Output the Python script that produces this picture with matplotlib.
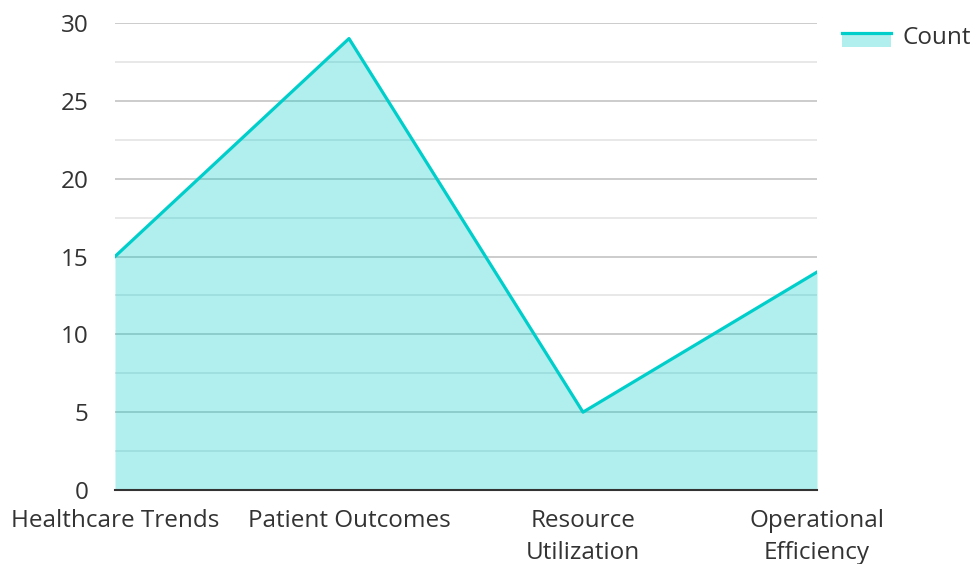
import matplotlib.pyplot as plt
from matplotlib.patches import Rectangle
from matplotlib.lines import Line2D
from matplotlib.legend_handler import HandlerBase
import numpy as np

categories = ["Healthcare Trends", "Patient Outcomes", "Resource\nUtilization", "Operational\nEfficiency"]
counts = [15, 29, 5, 14]

line_color = "#00cecb"
fill_alpha = 0.31
text_color = "#333333"


class AreaHandler(HandlerBase):
    # fill box with the line along its top edge, nudged a bit lower
    def create_artists(self, legend, orig_handle, xdescent, ydescent, width, height, fontsize, trans):
        y0 = -ydescent - 3.5
        box = Rectangle((-xdescent, y0), width, height, facecolor=line_color,
                        alpha=fill_alpha, edgecolor="none", transform=trans)
        top = Line2D([-xdescent, -xdescent + width], [y0 + height] * 2,
                     color=line_color, linewidth=2.3, transform=trans)
        return [box, top]


plt.rcParams['font.family'] = ['Open Sans', 'DejaVu Sans']

fig = plt.figure(figsize=(9.74, 5.64), dpi=100)
ax = fig.add_axes([115/974, 1 - 490/564, (817 - 115)/974, (490 - 23)/564])

x = np.arange(len(categories))
ax.fill_between(x, counts, 0, color=line_color, alpha=fill_alpha, linewidth=0, zorder=2)
line, = ax.plot(x, counts, color=line_color, linewidth=2.3, zorder=3)

ax.set_xlim(0, len(categories) - 1)
ax.set_ylim(0, 30)
ax.set_yticks(np.arange(0, 31, 5))
ax.set_yticks(np.arange(2.5, 30, 5), minor=True)
ax.set_xticks(x)
ax.set_xticklabels(categories, linespacing=1.45)

ax.grid(axis="y", which="major", color="#c8c8c8", linewidth=1.3, zorder=1)
ax.grid(axis="y", which="minor", color="#e6e6e6", linewidth=1.3, zorder=1)
ax.set_axisbelow(True)

for side in ["left", "right", "top"]:
    ax.spines[side].set_visible(False)
ax.spines["bottom"].set_color(text_color)
ax.spines["bottom"].set_linewidth(1.5)
ax.spines["bottom"].set_zorder(4)

ax.tick_params(axis="both", which="both", length=0, labelsize=17.5, colors=text_color)
ax.tick_params(axis="y", pad=19)
ax.tick_params(axis="x", pad=13.5)

fig.legend([line], ["Count"], handler_map={line: AreaHandler()}, loc="upper left",
           bbox_to_anchor=(842/974, 1 - 26/564), frameon=False, fontsize=17.5,
           labelcolor=text_color, handlelength=2.0, handleheight=0.5,
           handletextpad=0.5, borderaxespad=0, borderpad=0)

fig.savefig("out.png", dpi=100)
